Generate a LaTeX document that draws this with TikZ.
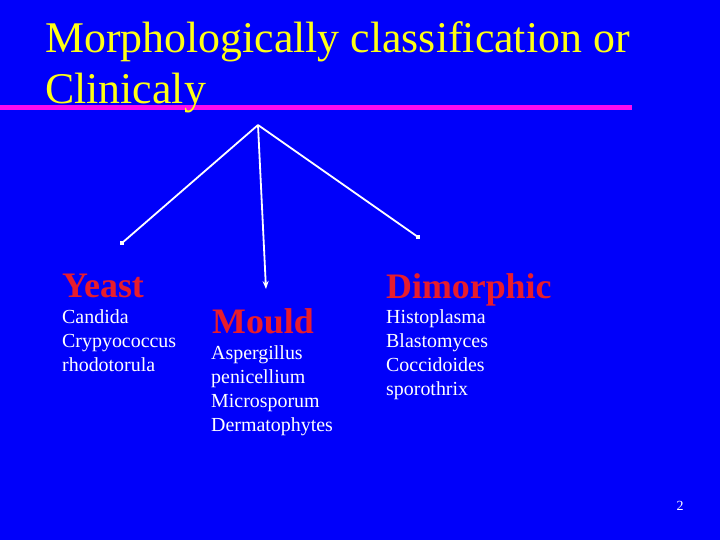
\documentclass[tikz,border=0pt]{standalone}
\usepackage{fontspec}
\setmainfont{Liberation Serif}
\usetikzlibrary{arrows.meta}
\definecolor{slideblue}{RGB}{0,0,250}
\definecolor{titleyellow}{RGB}{255,255,20}
\definecolor{rulemagenta}{RGB}{250,10,240}
\definecolor{headred}{RGB}{232,28,44}
\tikzset{%
	heading/.style={
		anchor=base west,
		inner sep=0pt,
		text=headred,
		font=\fontsize{36}{40}\selectfont\bfseries
	},
	genus list/.style={
		anchor=base west,
		inner sep=0pt,
		text=white,
		align=left,
		font=\fontsize{20}{24}\selectfont
	},
	branch/.style={white, line width=1.8bp},
	branch end/.style={fill=white, inner sep=0pt, minimum size=4bp},
}
\begin{document}
\begin{tikzpicture}[x=1bp, y=-1bp]
			% Background of the slide
			\fill[slideblue] (0,0) rectangle (720,540);
			\useasboundingbox (0,0) rectangle (720,540);
			
			% Draw the rule under the title
			\draw[rulemagenta, line width=5bp] (0,108) -- (632,108);
			
			% Title (placed at the baseline of its last line)
			\node[anchor=base west, inner sep=0pt, text=titleyellow, align=left,
				font=\fontsize{44}{52}\selectfont] (title) at (45,104)
				{Morphologically classification or\\Clinicaly};
			
			% Draw the branches
			\coordinate (apex) at (258,125);
			\node[branch end] (yeastend) at (122,243) {};
			\node[branch end] (dimend) at (418,237) {};
			\coordinate (mouldend) at (266,289);
			\draw[branch] (apex) -- (yeastend.center);
			\draw[branch] (apex) -- (dimend.center);
			\draw[branch, -{Stealth[length=8bp, width=6bp]}] (apex) -- (mouldend);
			
			% Yeast
			\node[heading] (yeast) at (62,297) {Yeast};
			\node[genus list] (yeastlist) at (62,371) {Candida\\Crypyococcus\\rhodotorula};
			
			% Mould
			\node[heading] (mould) at (212,333) {Mould};
			\node[genus list] (mouldlist) at (211,431) {Aspergillus\\penicellium\\Microsporum\\Dermatophytes};
			
			% Dimorphic
			\node[heading] (dimorphic) at (386,298) {Dimorphic};
			\node[genus list] (dimlist) at (386,395) {Histoplasma\\Blastomyces\\Coccidoides\\sporothrix};
			
			% Page number
			\node[anchor=base, inner sep=0pt, text=white, font=\fontsize{14}{16}\selectfont] (pagenum) at (680,510) {2};
\end{tikzpicture}
\end{document}
